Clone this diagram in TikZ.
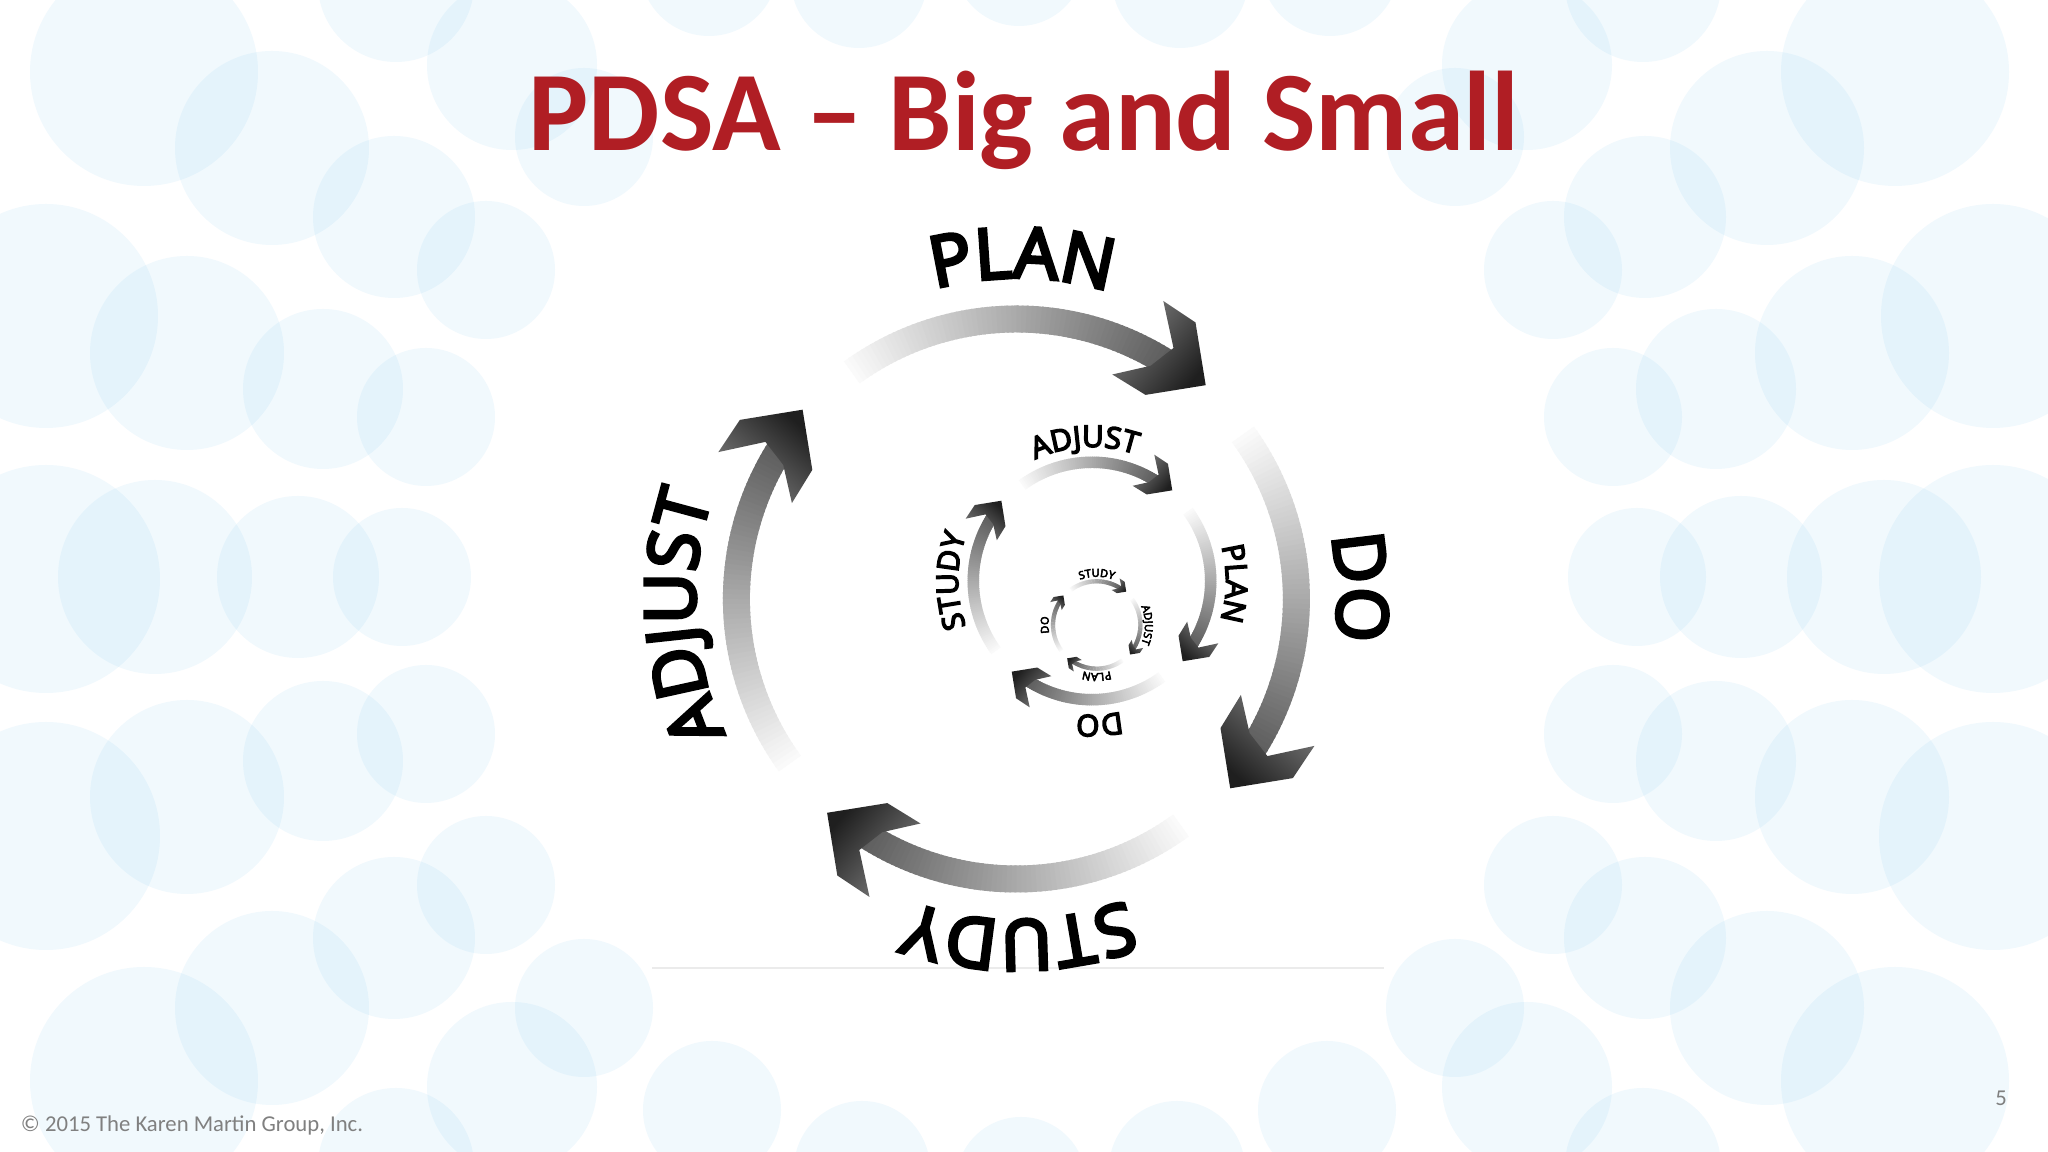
\documentclass[tikz,border=0pt]{standalone}
\usepackage{fontspec}
\setmainfont{Carlito}
\newfontfamily\labelfont[FakeBold=5]{Open Sans}
\usetikzlibrary{decorations.text}
\definecolor{titleRed}{RGB}{176,30,36}
\definecolor{bubbleBlue}{RGB}{20,160,235}
\tikzstyle{bubble}=[fill=bubbleBlue, fill opacity=0.06, draw=none]
\tikzstyle{slideText}=[text=black!50, inner sep=0pt, outer sep=0pt]
\tikzstyle{headFill}=[bottom color=black!50, top color=black!88]
\newcommand{\cyclearrow}[7]{
  \begin{scope}[shift={(#1,#2)}, rotate=#4, scale=#3]
    \pgfmathsetmacro{\bandw}{27*#3*0.01}
    \pgfmathsetmacro{\fsz}{20*#3}
    \pgfmathsetmacro{\shadeang}{-130+#4}
    \foreach \a in {126,125,...,58}{
      \pgfmathsetmacro{\lvl}{\a>90 ? 2+(126-\a)*32/36 : 34+(90-\a)*30/32}
      \draw[black!\lvl, line width=\bandw cm] (\a:280) arc[start angle=\a, end angle=\a-1.4, radius=280];
    }
    \shade[headFill, shading angle=\shadeang] (189.3,213.8) -- (179.1,276.5) -- (146.9,298) -- (157.1,251) -- (134.2,233.2) -- (95.9,224.5) -- (129.1,204.1) -- cycle;
    \path[decorate, decoration={text along path, text align=center, text={|\labelfont\fontsize{\fsz}{\fsz}\selectfont|#5}}] (150+#7:#6) arc[start angle=150+#7, end angle=30+#7, radius=#6];
  \end{scope}
}

\begin{document}
\begin{tikzpicture}[x=0.01cm, y=0.01cm]
  \useasboundingbox (0,0) rectangle (2048,1152);
  \clip (0,0) rectangle (2048,1152);
  \fill[white] (0,0) rectangle (2048,1152);
  %%%%%%%%%%%% Background
  \foreach \x/\y/\r in {144/72/114, 272/148/97, 394/217/81, 486/270/69,
      46/316/112, 187/353/97, 323/389/80, 426/417/69,
      46/579/114, 155/577/97, 298/577/81, 402/577/69,
      46/836/114, 187/797/97, 323/761/80, 426/734/69,
      144/1081/114, 272/1008/97, 394/938/81, 486/885/69,
      396/-16/78, 512/65/85, 584/137/69, 709/-33/69, 859/-20/68,
      396/1166/78, 512/1087/85, 584/1008/69, 712/1110/69, 862/1169/68}{
    \fill[bubble] (\x,1152-\y) circle (\r);
    \fill[bubble] (2039-\x,1152-\y) circle (\r);
  }
  \fill[bubble] (1019,1191) circle (65);
  \fill[bubble] (1021,-30) circle (65);
  %%%%%%%%%%%% Picture base line
  \coordinate (baseL) at (652,184);
  \coordinate (baseR) at (1384,184);
  \draw[black!8, line width=0.6pt] (baseL) -- (baseR);
  %%%%%%%%%%%% Big cycle
  \cyclearrow{1016.4}{553}{1}{0}{PLAN}{321}{-1}
  \cyclearrow{1016.4}{553}{1}{-90}{DO}{321}{2}
  \cyclearrow{1016.4}{553}{1}{-180}{STUDY}{321}{0.5}
  \cyclearrow{1016.4}{553}{1}{-270}{ADJUST}{321}{3.2}
  %%%%%%%%%%%% Middle cycle
  \cyclearrow{1092}{571}{0.424}{0}{ADJUST}{316}{3}
  \cyclearrow{1092}{571}{0.424}{-90}{PLAN}{316}{-1}
  \cyclearrow{1092}{571}{0.424}{-180}{DO}{316}{3}
  \cyclearrow{1092}{571}{0.424}{-270}{STUDY}{316}{0}
  %%%%%%%%%%%% Small cycle
  \cyclearrow{1096.7}{527}{0.156}{0}{STUDY}{309}{0}
  \cyclearrow{1096.7}{527}{0.156}{-90}{ADJUST}{309}{0}
  \cyclearrow{1096.7}{527}{0.156}{-180}{PLAN}{309}{0}
  \cyclearrow{1096.7}{527}{0.156}{-270}{DO}{309}{0}
  %%%%%%%%%%%% Slide texts
  \node (title) [anchor=base, text=titleRed, inner sep=0pt] at (1024,1001) {\fontsize{32.2}{36}\selectfont\bfseries PDSA – Big and Small};
  \node (copy) [slideText, anchor=base west] at (21,20) {\fontsize{6.45}{8}\selectfont © 2015 The Karen Martin Group, Inc.};
  \node (pageNum) [slideText, anchor=base] at (2001,46) {\fontsize{6.45}{8}\selectfont 5};
\end{tikzpicture}
\end{document}
